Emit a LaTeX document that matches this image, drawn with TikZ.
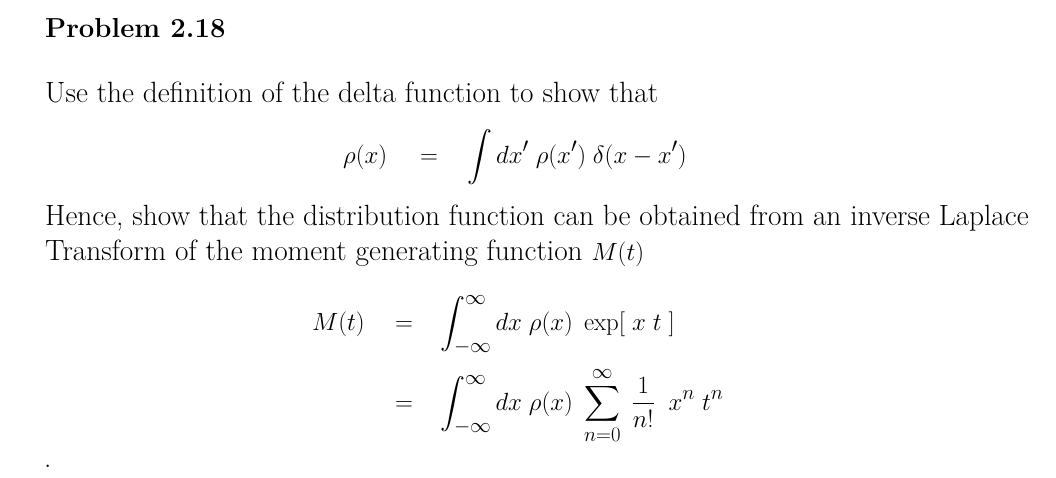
\documentclass[tikz,border=0pt]{standalone}
\usepackage{amsmath}
\begin{document}
\begin{tikzpicture}[x=1pt,y=-1pt,
  txt/.style={anchor=base west,inner sep=0pt,font=\fontsize{29.3}{35}\selectfont},
  ]
\useasboundingbox (0,0) rectangle (1056,477);
\node[txt,font=\fontsize{27.5}{33}\selectfont\bfseries] (title) at (45,37) {Problem 2.18};
\node[txt] (l1) at (45,102) {Use the definition of the delta function to show that};
\node[txt] (a1) at (343,163) {$\rho(x)$};
\node[txt] (a2) at (420,163) {$=$};
\node[txt] (a3) at (467,163) {$\displaystyle\int dx'\;\rho(x')\;\delta(x-x')$};
\node[txt] (l2) at (45,225) {Hence, show that the distribution function can be obtained from an inverse Laplace};
\node[txt] (l3) at (45,260) {Transform of the moment generating function $M(t)$};
\node[txt] (b1) at (312,330) {$M(t)$};
\node[txt] (b2) at (395,330) {$=$};
\node[txt] (b3) at (440,330) {$\displaystyle\int_{-\infty}^{\infty} dx\;\rho(x)\;\exp[\;x\;t\;]$};
\node[txt] (c2) at (395,410) {$=$};
\node[txt] (c3) at (440,410) {$\displaystyle\int_{-\infty}^{\infty} dx\;\rho(x)\;\sum_{n=0}^{\infty}\;\frac{1}{n!}\;\;x^n\;t^n$};
\node[txt] (dot) at (44,467) {.};
\end{tikzpicture}
\end{document}
